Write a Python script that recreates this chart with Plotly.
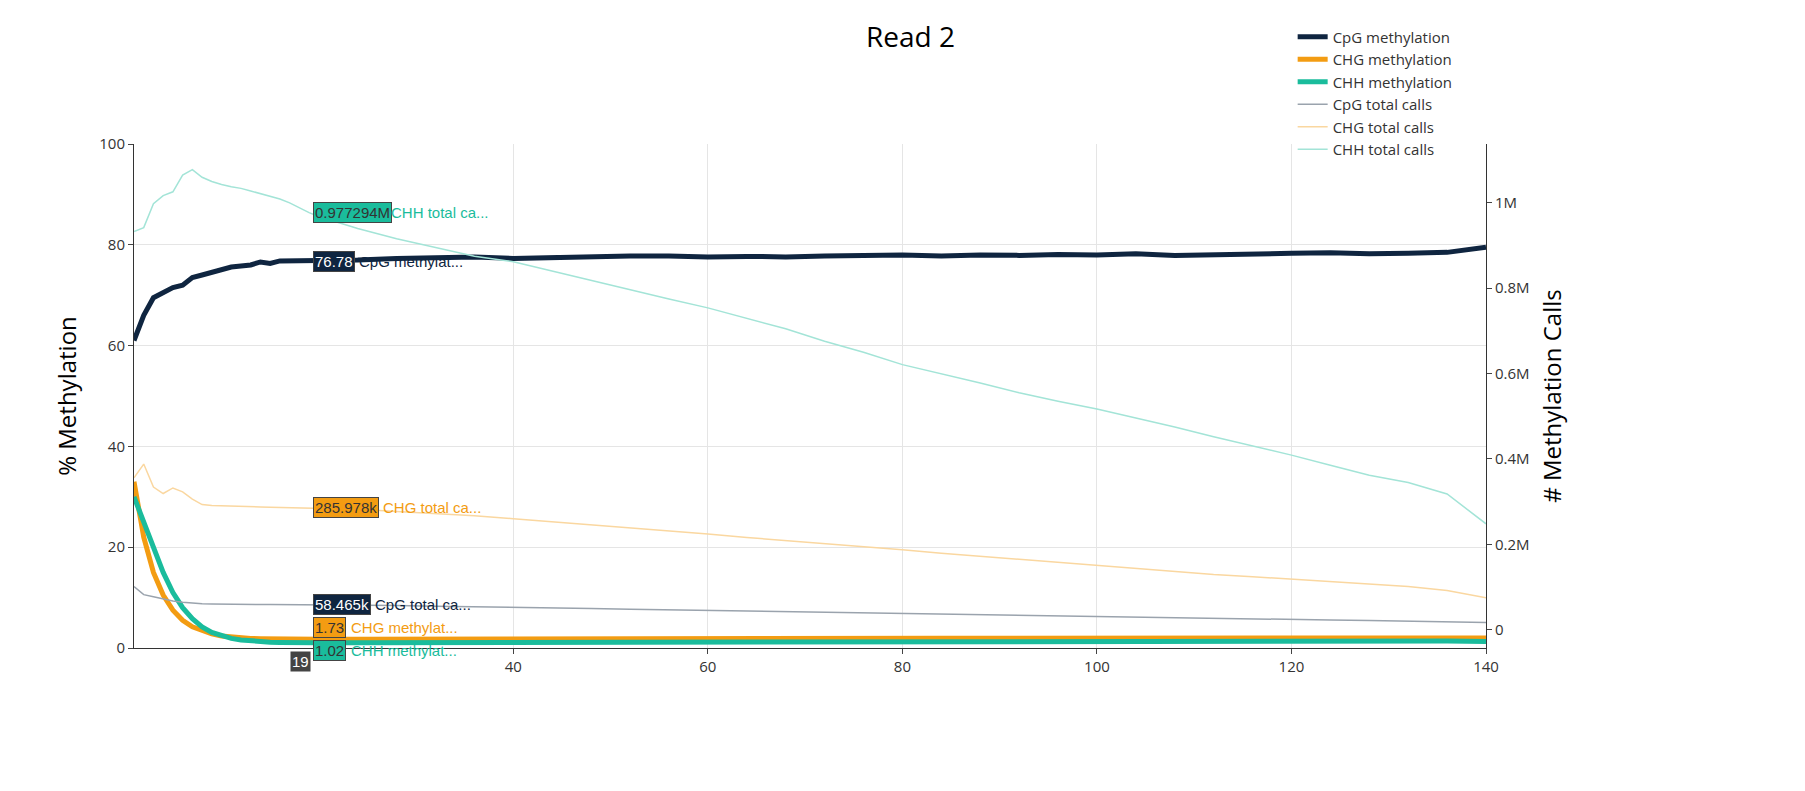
import plotly.graph_objects as go

pos = list(range(1, 21)) + list(range(24, 141, 4))
cpg_meth = [61, 66, 69.5, 70.5, 71.5, 72, 73.5, 74, 74.6, 75, 75.6, 75.8, 76, 76.6, 76.3, 76.8, 76.8, 76.8, 76.78, 76.8,
            77.0, 77.3, 77.5, 77.6, 77.3, 77.5, 77.7, 77.8, 77.8, 77.6, 77.7, 77.6, 77.8, 77.9, 78.0, 77.8, 78.0, 77.9,
            78.1, 78.0, 78.2, 77.9, 78.1, 78.1, 78.3, 78.4, 78.2, 78.3, 78.5, 79.5]
chg_meth = [33, 22, 15, 10.5, 7.5, 5.5, 4.2, 3.4, 2.8, 2.4, 2.2, 2.0, 1.9, 1.85, 1.8, 1.78, 1.76, 1.75, 1.73, 1.74,
            1.75, 1.78, 1.8, 1.8, 1.82, 1.82, 1.85, 1.85, 1.85, 1.88, 1.88, 1.9, 1.9, 1.9, 1.92, 1.95, 1.95, 1.95,
            1.98, 2.0, 2.0, 2.0, 2.0, 2.0, 2.0, 2.02, 2.05, 2.1, 2.1, 2.0]
chh_meth = [30, 25, 20, 15, 11, 8, 5.8, 4.2, 3.1, 2.4, 1.9, 1.6, 1.4, 1.25, 1.15, 1.1, 1.05, 1.03, 1.02, 1.02,
            1.03, 1.05, 1.05, 1.08, 1.08, 1.1, 1.1, 1.1, 1.12, 1.12, 1.15, 1.15, 1.15, 1.18, 1.18, 1.2, 1.2, 1.2,
            1.22, 1.22, 1.25, 1.25, 1.25, 1.28, 1.3, 1.35, 1.4, 1.45, 1.4, 1.3]
cpg_calls = [101000, 82000, 77000, 72000, 67000, 64000, 62000, 60500, 60000, 59500, 59200, 59000, 58900, 58800, 58700, 58650, 58600, 58550, 58465, 58400,
             57500, 56500, 55000, 54000, 52500, 51000, 49500, 48000, 46500, 45000, 43500, 42000, 40500, 39000, 37500, 36000, 34500, 33000,
             31500, 30000, 28500, 27000, 26000, 25000, 23500, 22500, 21500, 20000, 18500, 17000]
chg_calls = [356000, 388000, 334000, 319000, 332000, 323000, 306000, 293000, 291000, 290000, 289000, 288500, 288000, 287500, 287000, 286500, 286200, 286000, 285978, 285000,
             282000, 277000, 272000, 267000, 260000, 253000, 246000, 238000, 231000, 224000, 216000, 209000, 201000, 194000, 187000, 179000, 172000, 164000,
             157000, 150000, 143000, 136000, 129000, 124000, 118000, 112000, 107000, 101000, 92000, 75000]
chh_calls = [933000, 942000, 998000, 1017000, 1026000, 1065000, 1078000, 1060000, 1050000, 1043000, 1038000, 1034000, 1028000, 1022000, 1015000, 1009000, 1000000, 988000, 977294, 968000,
             940000, 916000, 895000, 875000, 862000, 840000, 818000, 797000, 775000, 754000, 730000, 705000, 676000, 650000, 621000, 600000, 578000, 555000,
             535000, 517000, 496000, 475000, 452000, 430000, 409000, 385000, 362000, 345000, 318000, 248000]

NAVY, ORANGE, TEAL = "#0f2540", "#f39c12", "#1abc9c"
fig = go.Figure()
fig.add_trace(go.Scatter(x=pos, y=cpg_meth, name="CpG methylation", line=dict(color=NAVY, width=5)))
fig.add_trace(go.Scatter(x=pos, y=chg_meth, name="CHG methylation", line=dict(color=ORANGE, width=5)))
fig.add_trace(go.Scatter(x=pos, y=chh_meth, name="CHH methylation", line=dict(color=TEAL, width=5)))
fig.add_trace(go.Scatter(x=pos, y=cpg_calls, name="CpG total calls", yaxis="y2", line=dict(color="#9aa3ad", width=1.5)))
fig.add_trace(go.Scatter(x=pos, y=chg_calls, name="CHG total calls", yaxis="y2", line=dict(color="#fad7a0", width=1.5)))
fig.add_trace(go.Scatter(x=pos, y=chh_calls, name="CHH total calls", yaxis="y2", line=dict(color="#a3e4d7", width=1.5)))

ann = []
def lab(y, yref, val, bg, fg, txt, tc, ys=0):
    ann.append(dict(x=19, y=y, xref="x", yref=yref, yshift=ys, text=val, showarrow=False, xanchor="left", xshift=4,
                    bgcolor=bg, bordercolor="#444", font=dict(color=fg, size=15, family="Arial")))
    ann.append(dict(x=19, y=y, xref="x", yref=yref, yshift=ys, text=txt, showarrow=False, xanchor="left",
                    xshift=4 + 8 * len(val) + 4, font=dict(color=tc, size=15, family="Arial")))
lab(977294, "y2", "0.977294M", TEAL, "#333", "CHH total ca...", TEAL)
lab(76.78, "y", "76.78", NAVY, "white", "CpG methylat...", NAVY)
lab(285978, "y2", "285.978k", ORANGE, "#333", "CHG total ca...", ORANGE)
lab(58465, "y2", "58.465k", NAVY, "white", "CpG total ca...", NAVY)
lab(1.73, "y", "1.73", ORANGE, "#333", "CHG methylat...", ORANGE, ys=12)
lab(1.02, "y", "1.02", TEAL, "#333", "CHH methylat...", TEAL, ys=-8)
ann.append(dict(x=19, y=0, xref="x", yref="paper", yshift=-24, text="19", showarrow=False, xanchor="right", xshift=2,
                bgcolor="#444", font=dict(color="white", size=15, family="Arial")))

fig.update_layout(
    width=1805, height=791, template="plotly_white",
    margin=dict(l=126, r=327, t=92, b=151),
    title=dict(text="Read 2", x=0.5, xanchor="center", y=0.975, font=dict(size=28, color="black")),
    font=dict(family="Open Sans, Arial", color="#333"),
    xaxis=dict(range=[1, 140], tickvals=[40, 60, 80, 100, 120, 140], showline=True, linecolor="#333", ticks="outside",
               tickfont=dict(size=15), gridcolor="#e5e5e5", zeroline=False),
    yaxis=dict(range=[0, 100], dtick=20, title=dict(text="% Methylation", font=dict(size=24, color="black")),
               showline=True, linecolor="#333", ticks="outside", tickfont=dict(size=15), gridcolor="#e5e5e5", zeroline=False),
    yaxis2=dict(overlaying="y", side="right", range=[-43000, 1138000], tickvals=[0, 200000, 400000, 600000, 800000, 1000000],
                ticktext=["0", "0.2M", "0.4M", "0.6M", "0.8M", "1M"], showgrid=False, zeroline=False,
                title=dict(text="# Methylation Calls", font=dict(size=24, color="black")),
                showline=True, linecolor="#333", ticks="outside", tickfont=dict(size=15)),
    legend=dict(x=0.857, y=1.245, xanchor="left", yanchor="top", font=dict(size=15), bgcolor="rgba(255,255,255,0)"),
    annotations=ann, showlegend=True,
)
fig.write_html("out.html")
